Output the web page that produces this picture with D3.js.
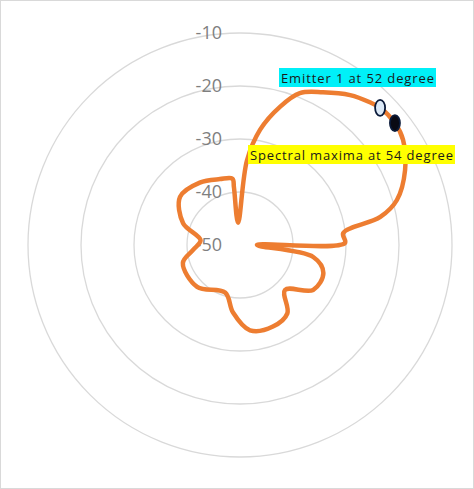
<!DOCTYPE html>
<html><head><meta charset="utf-8">
<script src="https://cdnjs.cloudflare.com/ajax/libs/d3/7.8.5/d3.min.js"></script>
<style>body{margin:0;background:#fff}</style>
</head><body>
<script>
"use strict";
// angle (deg, clockwise from top) and level (dB) traced along the pattern
var angles = [355, 4.7, 9.9, 16.2, 21.5, 28.5, 36.3, 42.3, 45.6, 51.8, 57.2, 65.6, 74, 78.7, 83.4, 88.9, 90, 99.3, 108.6, 121.6, 135, 145.3, 158, 173.3, 185.9, 197.4, 225.7, 252.5, 264, 277, 291, 308.7, 327.2, 343, 353.5, 354];
var levels = [-45.8, -34.0, -27.9, -22.8, -19.2, -17.2, -14.9, -13.6, -13.0, -12.8, -13.4, -15.8, -19.2, -23.0, -30.4, -30.2, -46.8, -36.0, -33.4, -33.8, -38.0, -34.3, -33.4, -33.8, -37.2, -40.6, -38.7, -38.7, -41.1, -42.5, -38.5, -35.5, -36.0, -37.0, -37.4, -39.0];
var ringTicks = [-10, -20, -30, -40, -50];
var markers = [{a: 45.6, v: -13.0, fill: "#dce9f7"}, {a: 51.8, v: -12.8, fill: "#0a0a14"}];
var notes = [{text: "Emitter 1 at 52 degree", bg: "#00f0f8", x: 279, y: 68, w: 157},
             {text: "Spectral maxima at 54 degree", bg: "#ffff00", x: 248, y: 145, w: 207}];

var W = 474, H = 489, cx = 240, cy = 245;
var svg = d3.select("body").append("svg").attr("width", W).attr("height", H);
svg.append("rect").attr("x", 0.5).attr("y", 0.5).attr("width", W - 1).attr("height", H - 1)
    .attr("fill", "#fff").attr("stroke", "#d9d9d9");

var r = d3.scaleLinear().domain([-50, -10]).range([0, 212]);
var g = svg.append("g").attr("transform", "translate(" + cx + "," + cy + ")");

g.selectAll("circle.ring").data(ringTicks.filter(function(t){ return t > -50; }))
  .enter().append("circle").attr("class", "ring")
  .attr("r", function(d){ return r(d); })
  .attr("fill", "none").attr("stroke", "#d9d9d9").attr("stroke-width", 1.3);

g.selectAll("text.tick").data(ringTicks).enter().append("text")
  .attr("x", -18).attr("y", function(d){ return -r(d); }).attr("dy", "0.36em")
  .attr("text-anchor", "end").attr("font-family", "Open Sans, sans-serif")
  .attr("font-size", 18).attr("fill", "#7f7f7f").text(function(d){ return d; });

var pts = angles.map(function(a, i){ return [a * Math.PI / 180, r(levels[i])]; });
g.append("path").datum(pts)
  .attr("d", d3.lineRadial().curve(d3.curveCatmullRomClosed.alpha(0.5)))
  .attr("fill", "none").attr("stroke", "#ed7d31").attr("stroke-width", 4.5)
  .attr("stroke-linejoin", "round");

g.selectAll("ellipse").data(markers).enter().append("ellipse")
  .attr("cx", function(d){ return r(d.v) * Math.sin(d.a * Math.PI / 180); })
  .attr("cy", function(d){ return -r(d.v) * Math.cos(d.a * Math.PI / 180); })
  .attr("rx", 5).attr("ry", 8).attr("fill", function(d){ return d.fill; })
  .attr("stroke", "#0a1a3a").attr("stroke-width", 1.8);

var n = svg.selectAll("g.note").data(notes).enter().append("g").attr("class", "note");
n.append("rect").attr("x", function(d){ return d.x; }).attr("y", function(d){ return d.y; })
  .attr("width", function(d){ return d.w; }).attr("height", 19).attr("fill", function(d){ return d.bg; });
n.append("text").attr("x", function(d){ return d.x + 2; }).attr("y", function(d){ return d.y + 14.5; })
  .attr("font-family", "Open Sans, sans-serif").attr("font-size", 13).attr("fill", "#1a1a1a")
  .attr("textLength", function(d){ return d.w - 4; })
  .text(function(d){ return d.text; });
</script>
</body></html>
